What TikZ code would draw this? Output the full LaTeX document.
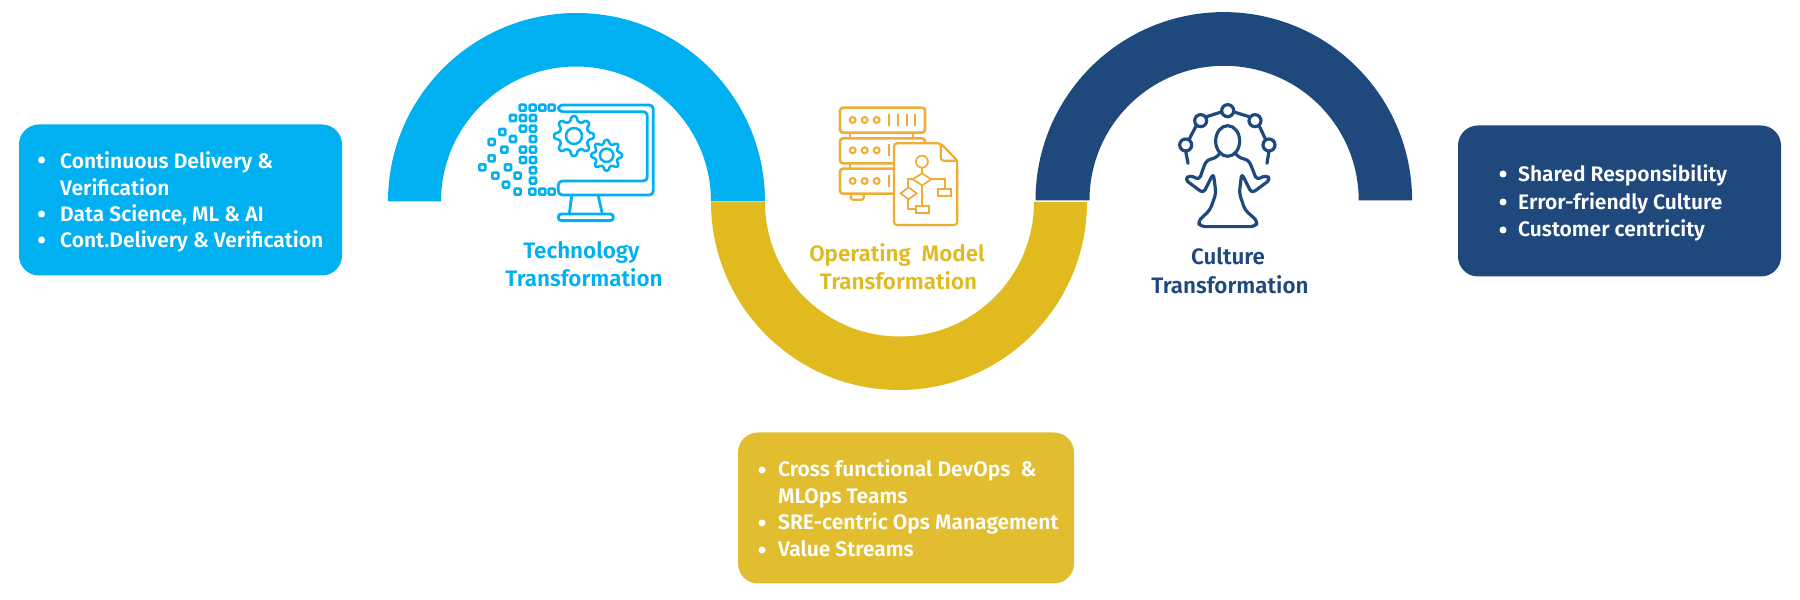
\documentclass[tikz,border=0pt]{standalone}
\usepackage{fontspec}
\setmainfont{Fira Sans SemiBold}

\definecolor{techblue}{HTML}{00B0F0}
\definecolor{opsgold}{HTML}{E1BA1F}
\definecolor{opsbox}{HTML}{E3BD30}
\definecolor{opsicon}{HTML}{F0AD35}
\definecolor{cultnavy}{HTML}{1F497D}

\tikzset{
  panel/.style={rectangle,rounded corners=20pt,inner sep=0pt,minimum width=323pt,minimum height=151pt},
  listline/.style={anchor=base west,inner sep=0pt,text=white,font=\fontsize{21}{25}\selectfont},
  titleline/.style={anchor=base,inner sep=0pt,font=\fontsize{22.4}{27}\selectfont},
  pixelbox/.style={draw=techblue,line width=2.6pt,rounded corners=1pt},
}

\newcommand{\drawgear}[5]{% centre x, centre y, outer, root, hole
  \draw[draw=techblue,line width=2.5pt,rounded corners=1.5pt,line join=round]
    (#1,#2) ++(-13:#4) \foreach \a in {0,45,...,315}
      { -- ($(#1,#2)+({\a-13}:#4)$) -- ($(#1,#2)+({\a-8}:#3)$) -- ($(#1,#2)+({\a+8}:#3)$) -- ($(#1,#2)+({\a+13}:#4)$) } -- cycle;
  \draw[draw=techblue,line width=2.5pt] (#1,#2) circle[radius=#5];
}

\usetikzlibrary{calc}

\begin{document}
\begin{tikzpicture}[x=1pt,y=1pt]
\useasboundingbox (0,0) rectangle (1800,600);

% half rings
\fill[techblue] (388,398.5) arc[start angle=180,end angle=0,radius=188.5] -- (711,398.5) arc[start angle=0,end angle=180,radius=135] -- cycle;
\fill[opsgold] (711,398) arc[start angle=180,end angle=360,radius=188] -- (1034,398) arc[start angle=360,end angle=180,radius=134.5] -- cycle;
\fill[cultnavy] (1035.5,399.6) arc[start angle=180,end angle=0,radius=188.3] -- (1358.7,399.6) arc[start angle=0,end angle=180,radius=134.6] -- cycle;

% the three panels
\node[panel,fill=techblue] (techpanel) at (180.5,400) {};
\node[panel,fill=opsbox,minimum width=336pt] (opspanel) at (906,92) {};
\node[panel,fill=cultnavy] (cultpanel) at (1619.5,399) {};

% panel texts
\foreach \name/\x/\y/\text in {
    tech1/60/168.5/{Continuous Delivery \&}, tech2/60/195.5/{Verification},
    tech3/60/221.5/{Data Science, ML \& AI}, tech4/60/247.5/{Cont.Delivery \& Verification},
    ops1/778/476.5/{Cross functional DevOps\ \ \&}, ops2/778/503.5/{MLOps Teams},
    ops3/778/529.5/{SRE-centric Ops Management}, ops4/778/556.5/{Value Streams},
    cult1/1518/181.5/{Shared Responsibility}, cult2/1518/209.5/{Error-friendly Culture},
    cult3/1518/236.5/{Customer centricity}}
    \node[listline] (\name) at (\x,600-\y) {\text};

% bullets
\foreach \name/\x/\y in {tb1/41.5/160, tb2/41.5/214, tb3/41.5/240,
                         ob1/762/470, ob2/762/523, ob3/762/550,
                         cb1/1503/174, cb2/1503/202, cb3/1503/230}
    \node[circle,fill=white,inner sep=0pt,minimum size=7pt] (\name) at (\x,600-\y) {};

% titles
\foreach \name/\x/\y/\col/\text in {
    tt1/581.5/259/techblue/{Technology}, tt2/584/287/techblue/{Transformation},
    ot1/897/262/opsgold/{Operating\ \ Model}, ot2/898.5/290/opsgold/{Transformation},
    ct1/1228/265/cultnavy/{Culture}, ct2/1230/294/cultnavy/{Transformation}}
    \node[titleline,text=\col] (\name) at (\x,600-\y) {\text};

% monitor icon
\begin{scope}[shift={(440,520)},x=0.3333pt,y=-0.3333pt]
\draw[draw=techblue,line width=2.8pt,line join=round,rounded corners=4pt]
    (355,95) -- (355,75) -- (640,75) -- (640,345) -- (355,345) -- (355,303) -- (622,303) -- (622,95) -- cycle;
\draw[draw=techblue,line width=2.8pt] (395,348) -- (388,402) (475,348) -- (487,402);
\draw[draw=techblue,line width=2.8pt,rounded corners=3pt] (355,402) rectangle (520,422);
\foreach \px/\py in {248/83,278/83,307/83,335/83,219/114,249/114,279/114,249/146,279/146,
                     187/156,219/177,279/177,155/186,193/209,249/209,279/209,155/235,
                     249/240,279/240,127/262,204/262,279/271,166/287,233/287,279/302,
                     198/314,233/335,277/335,307/335,335/335}
    \draw[pixelbox] (\px-9,\py-9) rectangle (\px+9,\py+9);
\drawgear{402}{168}{60}{45}{24}
\drawgear{500}{226}{47}{35}{20}
\end{scope}

% server and flowchart icon
\begin{scope}[shift={(820,510)},x=0.3333pt,y=-0.3333pt]
\foreach \ry in {53,145,236}
    \draw[draw=opsicon,line width=2.6pt,rounded corners=3pt] (60,\ry) rectangle (315,\ry+75);
\draw[draw=opsicon,line width=2.2pt] (90,128) -- (90,145) (280,128) -- (280,145) (90,220) -- (90,236);
\draw[draw=opsicon,line width=2.2pt,rounded corners=2pt] (93,311) -- (93,329) -- (131,329) -- (131,311);
\foreach \ry in {90,181,273}
    \foreach \cx in {98,134,170}
        \draw[draw=opsicon,line width=2pt] (\cx,\ry) circle[radius=9];
\foreach \bx in {208,234,260,286}
    \draw[draw=opsicon,line width=2pt] (\bx,72) -- (\bx,108);
\draw[draw=opsicon,line width=2pt] (208,163) -- (208,199) (208,255) -- (208,291);
% the sheet
\draw[draw=opsicon,fill=white,line width=2.2pt,rounded corners=3pt]
    (222,160) -- (362,160) -- (412,212) -- (412,405) -- (222,405) -- cycle;
\draw[draw=opsicon,line width=2.2pt,rounded corners=3pt] (362,160) -- (362,212) -- (412,212);
\draw[draw=opsicon,line width=1.7pt] (306,215) circle[radius=18];
\draw[draw=opsicon,line width=1.7pt] (306,233) -- (306,250) (278,268) -- (264,268) -- (264,292)
    (264,328) -- (264,358) -- (287,358) (306,286) -- (306,348) (334,268) -- (374,268) -- (374,298);
\draw[draw=opsicon,line width=1.7pt] (306,250) -- (334,268) -- (306,286) -- (278,268) -- cycle;
\draw[draw=opsicon,line width=1.7pt] (266,292) -- (290,310) -- (266,328) -- (242,310) -- cycle;
\draw[draw=opsicon,line width=1.7pt] (287,348) rectangle (327,370);
\draw[draw=opsicon,line width=1.7pt] (354,298) rectangle (394,318);
\end{scope}

% meditating figure icon
\begin{scope}[shift={(1160,510)},x=0.3333pt,y=-0.3333pt]
\foreach \cx/\cy in {203/62,122/92,285/92,77/165,327/165}
    \draw[draw=cultnavy,line width=3.2pt] (\cx,\cy) circle[radius=18];
\draw[draw=cultnavy,line width=3.2pt,line cap=round] (184,66) -- (140,80) (222,66) -- (267,80)
    (108,108) -- (88,147) (298,108) -- (316,147) (77,183) -- (84,220) (327,183) -- (321,220);
\draw[draw=cultnavy,line width=3.2pt] (203,153) ellipse[x radius=36,y radius=46];
\draw[draw=cultnavy,line width=3.2pt,line join=round,rounded corners=4pt]
    (180,190) -- (165,206) -- (142,208) -- (132,228) -- (118,270) -- (90,255) -- (74,268) -- (130,310)
    -- (160,250) -- (168,310) -- (150,360) -- (113,395) -- (122,410) -- (285,410) -- (294,395)
    -- (255,360) -- (238,310) -- (245,250) -- (275,310) -- (332,268) -- (318,255) -- (290,270)
    -- (274,228) -- (264,208) -- (241,206) -- (226,190);
\end{scope}
\end{tikzpicture}
\end{document}
